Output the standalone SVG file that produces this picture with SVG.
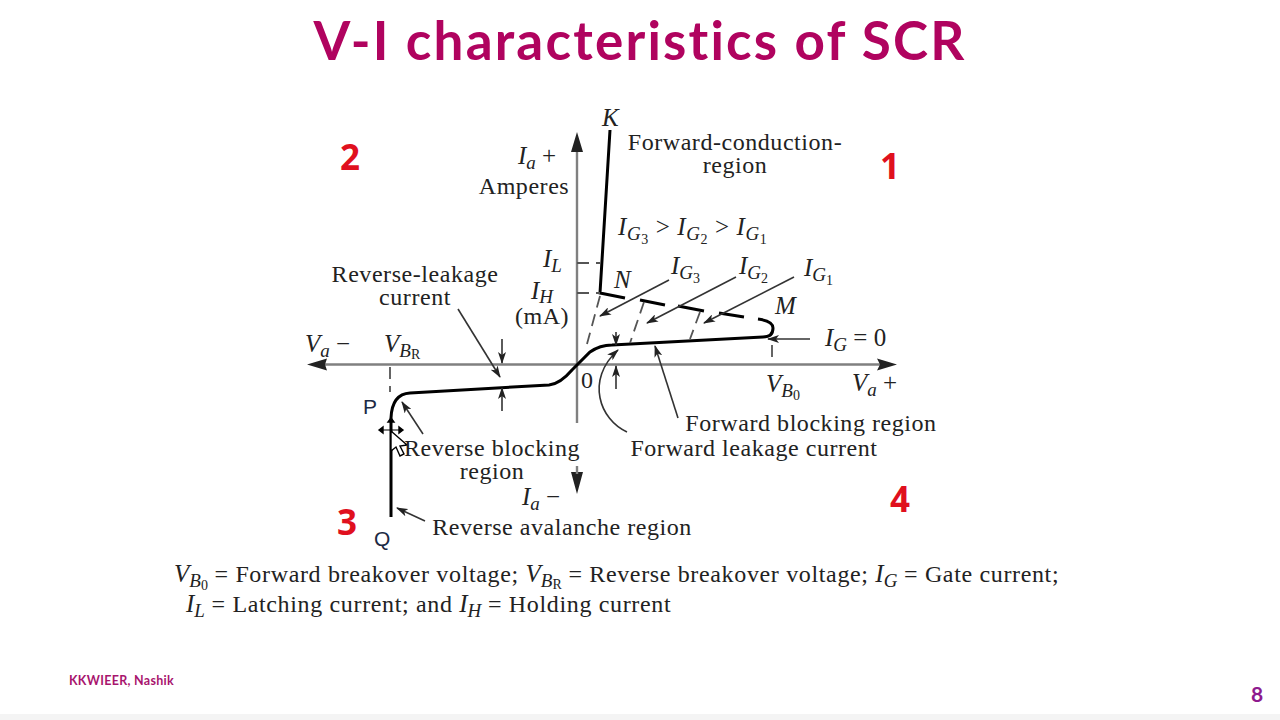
<svg xmlns="http://www.w3.org/2000/svg" width="1280" height="720" viewBox="0 0 1280 720">
<style>
.t{font-family:"Liberation Serif",serif;font-size:24px;fill:#222;letter-spacing:.55px}
.i{font-family:"Liberation Serif",serif;font-size:25px;font-style:italic;fill:#222}
.s{font-size:19px;font-style:italic}
.ss{font-size:14px;font-style:normal}
.r{font-style:normal;font-size:24px;letter-spacing:.65px}
.n{font-family:"Open Sans",sans-serif;font-size:35px;font-weight:700;fill:#e0101e}
.q{font-family:"Liberation Sans",sans-serif;font-size:21px;fill:#1c2a44}
.ax{stroke:#808080;stroke-width:2.4;fill:none}
.c{stroke:#000;stroke-width:3;fill:none}
.la{stroke:#333;stroke-width:1.6;fill:none;marker-end:url(#a)}
.d{stroke:#555;stroke-width:1.8;fill:none;stroke-dasharray:12 7}
</style>
<defs>
<marker id="a" markerUnits="userSpaceOnUse" markerWidth="12" markerHeight="8" refX="11" refY="4" orient="auto"><path d="M0 0L12 4L0 8L3 4Z" fill="#222"/></marker>
</defs>
<rect width="1280" height="720" fill="#fff"/>
<rect y="714" width="1280" height="6" fill="#f4f4f4"/>
<text id="title" x="640" y="60" text-anchor="middle" font-family="Lato,'Open Sans',sans-serif" font-size="53" font-weight="700" letter-spacing="2.200" fill="#b0035f">V-I characteristics of SCR</text>

<g id="connectors">
<path class="ax" d="M577 150V423M320 364.500H885"/>
<path d="M577 132L583 152H571ZM897 364.500L877 370.500L880 364.500L877 358.500ZM307 364.500L327 358.500L325 364.500L327 370.500ZM577 494L571 472H583Z" fill="#222"/>
<path class="ax" d="M577 466V474" stroke-width="2"/>
<path class="c" d="M610 130L600 293L625 298M640 300L665 305M678 306L704 311M719 313L744 317M758 319Q773 321 773 328Q773 337 763 337L612 345Q600 345 590 352L572 370Q560 384 549 385L410 393Q392 394 391 418V517"/>
<path class="d" d="M600 296L587 344M644 302L630 343M700 312L690 339M390 367V392M772 345V362"/>
<path class="d" d="M577 263H600M577 293H600" stroke-dasharray="9 5"/>
<path class="la" d="M669 280L600 316"/>
<path class="la" d="M736 277L647 323"/>
<path class="la" d="M794 277L704 323"/>
<path class="la" d="M458 309L500 377"/>
<path class="la" d="M502 339V363"/>
<path class="la" d="M502 411V388"/>
<path class="la" d="M616 332V345"/>
<path class="la" d="M616 389V366"/>
<path class="la" d="M678 418L655 346"/>
<path class="la" d="M627 432C600 420 585 380 618 350"/>
<path class="la" d="M810 339H768"/>
<path class="la" d="M423 434L402 402"/>
<path class="la" d="M425 521L397 508"/>
</g>

<g id="cursor" fill="none" stroke="#000" stroke-width="1.400">
<path d="M381 430H401M391 420V440" stroke-width="1.200"/>
<path d="M379 430L383 427V433ZM403 430L399 427V433ZM391 418L388 422H394Z" fill="#000"/>
<path d="M391 431V451L396 447L400 456L404 454L400 446L407 445Z" fill="#fff"/>
</g>

<g id="labels">
<text class="t" x="524" y="194" text-anchor="middle">Amperes</text>
<text class="i" x="518" y="164">I<tspan class="s" dy="5">a</tspan><tspan dy="-5" font-style="normal"> +</tspan></text>
<text class="i" x="602" y="126">K</text>
<text class="t" x="735" y="150" text-anchor="middle">Forward-conduction-</text>
<text class="t" x="735" y="173" text-anchor="middle">region</text>
<text class="i" x="618" y="235" letter-spacing=".6">I<tspan class="s" dy="5">G</tspan><tspan class="ss" dy="4">3</tspan><tspan dy="-9" font-style="normal"> &gt; </tspan>I<tspan class="s" dy="5">G</tspan><tspan class="ss" dy="4">2</tspan><tspan dy="-9" font-style="normal"> &gt; </tspan>I<tspan class="s" dy="5">G</tspan><tspan class="ss" dy="4">1</tspan></text>
<text class="i" x="543" y="267">I<tspan class="s" dy="5">L</tspan></text>
<text class="i" x="531" y="299">I<tspan class="s" dy="4">H</tspan></text>
<text class="t" x="542" y="324" text-anchor="middle">(mA)</text>
<text class="t" x="415" y="282" text-anchor="middle">Reverse-leakage</text>
<text class="t" x="415" y="305" text-anchor="middle">current</text>
<text class="i" x="614" y="288">N</text>
<text class="i" x="671" y="274">I<tspan class="s" dy="5">G</tspan><tspan class="ss" dy="4">3</tspan></text>
<text class="i" x="739" y="274">I<tspan class="s" dy="5">G</tspan><tspan class="ss" dy="4">2</tspan></text>
<text class="i" x="804" y="276">I<tspan class="s" dy="5">G</tspan><tspan class="ss" dy="4">1</tspan></text>
<text class="i" x="775" y="314">M</text>
<text class="i" x="825" y="346">I<tspan class="s" dy="5">G</tspan><tspan dy="-5" font-style="normal"> = 0</tspan></text>
<text class="i" x="305" y="352">V<tspan class="s" dy="5">a</tspan><tspan dy="-5" font-style="normal"> −</tspan></text>
<text class="i" x="384" y="352">V<tspan class="s" dy="5">B</tspan><tspan class="ss" dy="2" font-style="italic">R</tspan></text>
<text class="t" x="581" y="388">0</text>
<text class="i" x="766" y="392">V<tspan class="s" dy="5">B</tspan><tspan class="ss" dy="3">0</tspan></text>
<text class="i" x="852" y="391">V<tspan class="s" dy="5">a</tspan><tspan dy="-5" font-style="normal"> +</tspan></text>
<text class="t" x="811" y="431" text-anchor="middle">Forward blocking region</text>
<text class="t" x="754" y="456" text-anchor="middle">Forward leakage current</text>
<text class="t" x="492" y="456" text-anchor="middle">Reverse blocking</text>
<text class="t" x="492" y="479" text-anchor="middle">region</text>
<text class="i" x="522" y="505">I<tspan class="s" dy="5">a</tspan><tspan dy="-5" font-style="normal"> −</tspan></text>
<text class="t" x="562" y="535" text-anchor="middle">Reverse avalanche region</text>
<text class="q" x="363" y="414">P</text>
<text class="q" x="374" y="546">Q</text>
<text class="n" x="340" y="170">2</text>
<text class="n" x="880" y="179">1</text>
<text class="n" x="337" y="535">3</text>
<text class="n" x="890" y="512">4</text>
<text class="i" x="174" y="582">V<tspan class="s" dy="5">B</tspan><tspan class="ss" dy="3">0</tspan><tspan class="r" dy="-8"> = Forward breakover voltage; </tspan>V<tspan class="s" dy="5">B</tspan><tspan class="ss" dy="2" font-style="italic">R</tspan><tspan class="r" dy="-7"> = Reverse breakover voltage; </tspan>I<tspan class="s" dy="5">G</tspan><tspan class="r" dy="-5"> = Gate current;</tspan></text>
<text class="i" x="186" y="612">I<tspan class="s" dy="5">L</tspan><tspan class="r" dy="-5"> = Latching current; and </tspan>I<tspan class="s" dy="5">H</tspan><tspan class="r" dy="-5"> = Holding current</tspan></text>
<text x="69" y="685" font-family="Lato,sans-serif" font-size="12.500" font-weight="700" letter-spacing=".3" fill="#a8156e">KKWIEER, Nashik</text>
<text x="1257" y="702" text-anchor="middle" font-family="Lato,sans-serif" font-size="21" font-weight="700" fill="#8e1a8e">8</text>
</g>
</svg>
